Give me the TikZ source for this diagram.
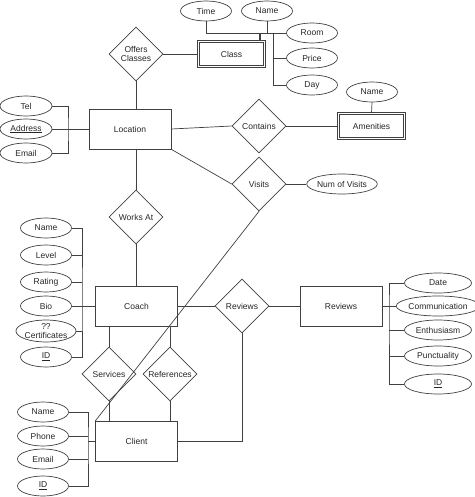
\documentclass[tikz,border=0pt]{standalone}
\usepackage{fontspec}
\setmainfont{Liberation Sans}
\usetikzlibrary{shapes.geometric}

\begin{document}
\begin{tikzpicture}[x=1pt, y=-1pt, black!75, line width=0.7pt]
		\tikzstyle{every node}=[font=\fontsize{8.5}{9.5}\selectfont, text=black!85, inner sep=0pt, align=center]
		\tikzstyle{entity}=[draw, rectangle, minimum width=82pt, minimum height=40pt]
		\tikzstyle{weak}=[draw, rectangle, double, double distance=1.8pt, minimum width=66pt, minimum height=25pt]
		\tikzstyle{relation}=[draw, diamond, minimum width=54pt, minimum height=54pt]
		\tikzstyle{attr}=[draw, ellipse, minimum width=51pt, minimum height=20pt]
		\useasboundingbox (0, 0) rectangle (474, 497);

			% entities
			\node[entity] (location) at (130, 129) {Location};
			\node[entity] (coach) at (136.5, 306) {Coach};
			\node[entity] (client) at (136.5, 441.5) {Client};
			\node[entity] (reviews) at (341, 306) {Reviews};
			\node[weak] (class) at (231.5, 54) {Class};
			\node[weak] (amenities) at (371.5, 126) {Amenities};

			% relationships
			\node[relation] (offers) at (136, 54) {Offers\\Classes};
			\node[relation] (contains) at (259, 126) {Contains};
			\node[relation] (visits) at (259, 184) {Visits};
			\node[relation] (worksat) at (136, 217) {Works At};
			\node[relation] (reviewsrel) at (242, 306) {Reviews};
			\node[relation] (services) at (109, 374) {Services};
			\node[relation] (references) at (170, 374) {References};

			% attributes
			\node[attr] (time) at (206, 11) {Time};
			\node[attr] (clsname) at (267, 11) {Name};
			\node[attr] (room) at (312, 33) {Room};
			\node[attr] (price) at (312, 58) {Price};
			\node[attr] (day) at (312, 85) {Day};
			\node[attr] (amenname) at (372, 92) {Name};
			\node[attr, minimum width=52pt] (numvisits) at (342, 184) {Num of Visits};
			\node[attr, minimum width=52pt] (tel) at (26, 106) {Tel};
			\node[attr, minimum width=52pt] (address) at (26, 129) {\underline{Address}};
			\node[attr, minimum width=52pt] (locemail) at (26, 153) {Email};
			\node[attr] (chname) at (46, 228) {Name};
			\node[attr] (chlevel) at (46, 255) {Level};
			\node[attr] (chrating) at (46, 282) {Rating};
			\node[attr] (chbio) at (46, 306) {Bio};
			\node[attr] (chcert) at (46, 331) {??\\Certificates};
			\node[attr] (chid) at (46, 357) {\underline{ID}};
			\node[attr, minimum width=67pt] (rdate) at (438, 283) {Date};
			\node[attr, minimum width=67pt] (rcomm) at (438, 306) {Communication};
			\node[attr, minimum width=67pt] (renth) at (438, 330) {Enthusiasm};
			\node[attr, minimum width=67pt] (rpunct) at (438, 356) {Punctuality};
			\node[attr, minimum width=67pt] (rid) at (438, 384) {\underline{ID}};
			\node[attr] (clname) at (43, 412) {Name};
			\node[attr] (clphone) at (43, 436) {Phone};
			\node[attr] (clemail) at (43, 459) {Email};
			\node[attr] (clid) at (43, 486) {\underline{ID}};

			% joints
			\coordinate (classbus) at (273, 33);
			\coordinate (classjoin) at (260, 33);
			\coordinate (locbus) at (68, 129);
			\coordinate (coachbus) at (82, 306);
			\coordinate (revbus) at (389, 306);
			\coordinate (clientbus) at (88, 441.5);

			% class
			\draw (offers.east) -- (class.west);
			\draw (offers.south) -- (offers.south |- location.north);
			\draw (time.south) |- (room.west);
			\draw (clsname.south) -- (clsname.south |- room.west);
			\draw[line width=1.4pt] (classjoin) -- (classjoin |- class.north);
			\draw (classbus) |- (day.west);
			\draw (price.west) -- (price.west -| classbus);

			% location
			\draw (tel.east) -| (locbus) |- (locemail.east);
			\draw (address.east) -- (location.west);
			\draw (location.east) -- (contains.west);
			\draw (contains.east) -- (amenities.west);
			\draw (amenname.south) -- (amenities.north);
			\draw (location.south east) -- (visits.west);
			\draw (visits.east) -- (numvisits.west);
			\draw (visits.south) -- (client.north west);
			\draw (worksat.north) -- (worksat.north |- location.south);
			\draw (worksat.south) -- (worksat.south |- coach.north);

			% coach
			\draw (chname.east) -| (coachbus) |- (chid.east);
			\draw (chlevel.east) -- (chlevel.east -| coachbus);
			\draw (chrating.east) -- (chrating.east -| coachbus);
			\draw (chcert.east) -- (chcert.east -| coachbus);
			\draw (chbio.east) -- (coach.west);
			\draw (coach.east) -- (reviewsrel.west);
			\draw (reviewsrel.east) -- (reviews.west);
			\draw (reviewsrel.south) |- (client.east);
			\draw (services.north) -- (services.north |- coach.south);
			\draw (services.south) -- (services.south |- client.north);
			\draw (references.north) -- (references.north |- coach.south);
			\draw (references.south) -- (references.south |- client.north);

			% reviews
			\draw (rdate.west) -| (revbus) |- (rid.west);
			\draw (reviews.east) -- (rcomm.west);
			\draw (renth.west) -- (renth.west -| revbus);
			\draw (rpunct.west) -- (rpunct.west -| revbus);

			% client
			\draw (clname.east) -| (clientbus) |- (clid.east);
			\draw (clphone.east) -- (clphone.east -| clientbus);
			\draw (clemail.east) -- (clemail.east -| clientbus);
			\draw (clientbus) -- (client.west);
		\end{tikzpicture}
\end{document}
